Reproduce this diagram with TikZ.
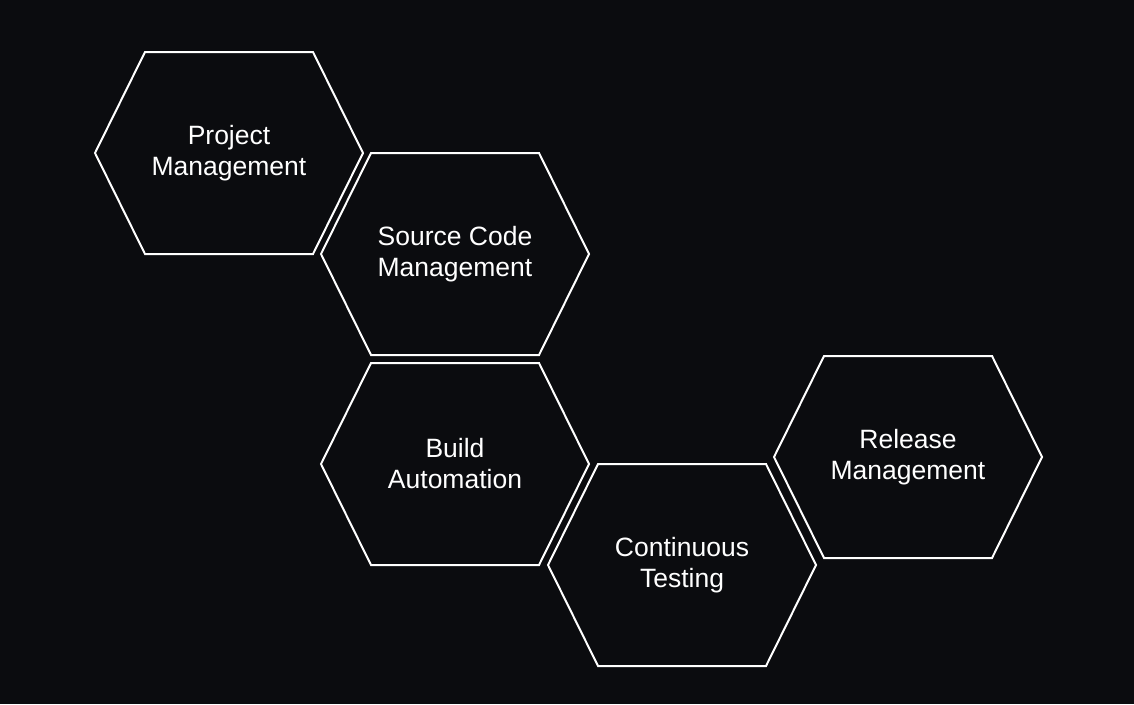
\documentclass[tikz,border=0pt]{standalone}
\usepackage{fontspec}
\setmainfont{Liberation Sans}
\definecolor{bg}{HTML}{0B0C0F}
\tikzset{hexlbl/.style={text=white,align=center,font=\fontsize{26.5}{31}\selectfont},
hexline/.style={draw=white,line width=2pt,line join=miter}}
\newcommand{\hexat}[4]{% name, cx, cy, text
  \node[hexlbl] (#1) at (#2,#3) {#4};
  \draw[hexline] ($(#1)+(-134,0)$) -- ++(50,-101) -- ++(168,0) -- ++(50,101) -- ++(-50,101) -- ++(-168,0) -- cycle;}
\usetikzlibrary{calc}
\begin{document}
\begin{tikzpicture}[x=1pt,y=-1pt]
\fill[bg] (0,0) rectangle (1134,704);
\useasboundingbox (0,0) rectangle (1134,704);
\hexat{pm}{229}{153}{Project\\Management}
\hexat{scm}{455}{254}{Source Code\\Management}
\hexat{ba}{455}{464}{Build\\Automation}
\hexat{ct}{682}{565}{Continuous\\Testing}
\hexat{rm}{908}{457}{Release\\Management}
\end{tikzpicture}
\end{document}
